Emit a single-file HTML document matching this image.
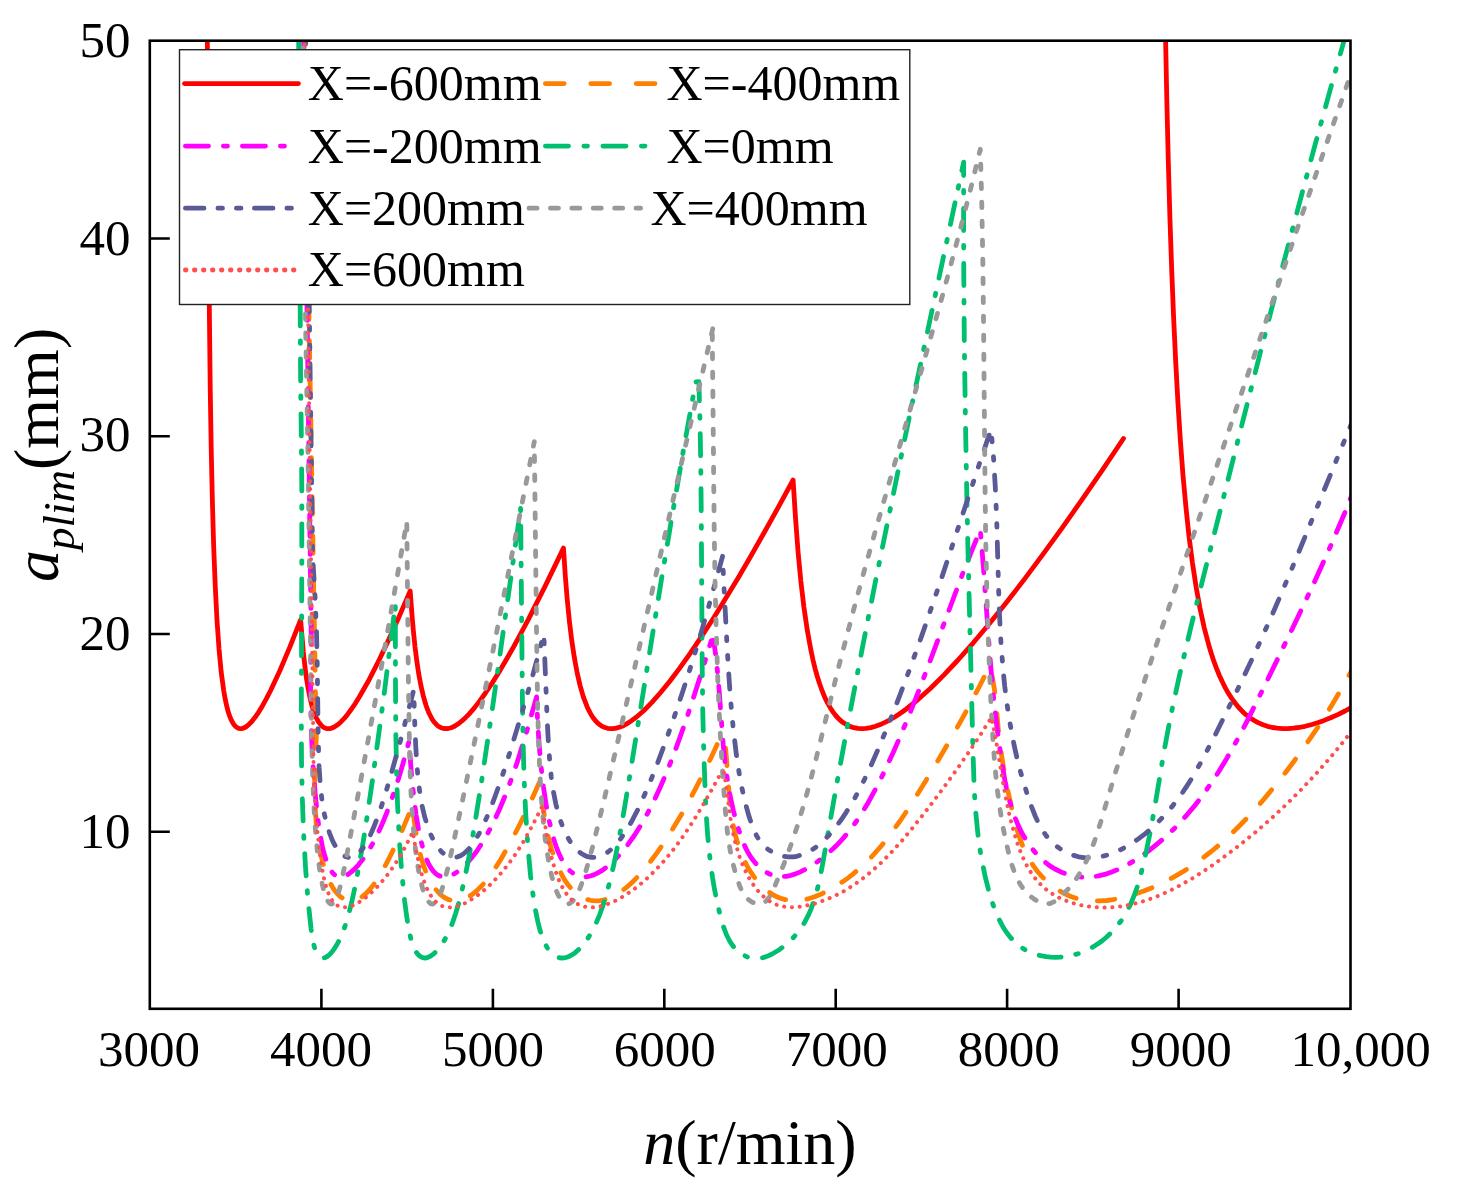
<!DOCTYPE html>
<html><head><meta charset="utf-8"><title>Stability lobes</title>
<style>
html,body{margin:0;padding:0;background:#fff}
body{width:1458px;height:1197px;overflow:hidden}
svg{display:block}
text{font-family:"Liberation Serif",serif;fill:#000}
.t{font-size:51px}
.lg{font-size:50px}
.ax{font-size:64px}
.it{font-style:italic}
</style></head><body>
<svg width="1458" height="1197" viewBox="0 0 1458 1197">
<rect width="1458" height="1197" fill="#fff"/>
<defs><clipPath id="cp"><rect x="149.8" y="40.7" width="1200.7" height="968.0999999999999"/></clipPath></defs>
<g clip-path="url(#cp)" fill="none" stroke-width="4.8" stroke-linejoin="round" stroke-linecap="round">
<path d="M207.3 34.1 L208.5 233.3 L210.2 386.6 L211.2 448.1 L212.4 501.9 L213.7 547.5 L215.3 586.8 L217 620.4 L219 648.7 L221.2 672.1 L223.8 691.1 L225.2 699.1 L226.7 705.9 L228.2 711.9 L230 717 L231.8 721.1 L233.7 724.3 L235.8 726.7 L238 728.1 L239.2 728.5 L240.5 728.7 L243 728.3 L245.8 727 L248.7 724.7 L251.8 721.5 L255.1 717.3 L258.7 712.1 L262.4 705.9 L266.4 698.7 L270.6 690.5 L279.6 671.2 L289.6 647.6 L300.6 619.8 L303.3 651.8 L304.8 665.5 L306.3 677.4 L308.1 688 L309.9 697.4 L311.9 705.6 L314 712.3 L316.3 717.9 L318.8 722.3 L321.5 725.6 L322.8 726.8 L324.3 727.7 L325.9 728.3 L327.5 728.6 L329.1 728.7 L330.7 728.4 L332.4 727.9 L334.2 727 L338 724.5 L341.1 721.7 L344.5 718.2 L347.9 713.9 L351.5 709 L355.4 703.3 L359.4 696.8 L368 681.8 L377.3 663.7 L387.5 642.4 L398.4 618.3 L410.2 590.9 L411.7 611.4 L413.3 630.3 L415 646.8 L416.9 661.7 L418.9 675 L421.1 686.4 L423.5 696.8 L426 705.3 L428.7 712.5 L431.7 718.4 L433.2 720.8 L434.9 722.9 L436.6 724.7 L438.3 726.2 L440.1 727.3 L442 728.1 L444 728.5 L446.1 728.7 L448.1 728.5 L450.4 728 L452.6 727.2 L454.9 726 L459.4 723 L464 719.1 L469 714.1 L474.2 708.1 L479.8 700.9 L485.8 692.5 L492.1 683.1 L498.6 672.8 L505.5 661 L512.8 648.3 L528.5 619.2 L545.4 585.6 L563.5 548.1 L565.2 574.6 L567.2 599.1 L569.4 621.2 L571.7 640.2 L574.4 657.8 L577.1 672.6 L580.1 685.6 L583.4 697.1 L587.1 706.7 L589 710.7 L591 714.5 L593.1 717.7 L595.3 720.5 L597.5 722.8 L599.9 724.8 L602.3 726.4 L604.9 727.5 L607.6 728.3 L610.4 728.7 L613.2 728.6 L616.2 728.1 L619.3 727.3 L622.6 726 L625.7 724.4 L629.1 722.4 L636.2 717.3 L643.7 710.7 L651.9 702.4 L660.6 692.5 L669.8 681.2 L679.7 668.1 L690 653.6 L701.1 637.2 L712.8 619.2 L725 599.6 L737.8 578.4 L750.9 556 L764.5 532 L778.5 506.9 L793.1 480 L795.5 517.7 L798 551.1 L800.8 580.8 L803.9 607.1 L807.3 630.3 L811 650.6 L813 660 L815.1 668.6 L817.3 676.5 L819.7 684 L822.1 690.7 L824.7 697.1 L827.4 702.7 L830.2 707.7 L833.1 712.1 L836.1 716 L839.3 719.4 L842.7 722.3 L846.3 724.6 L849.9 726.4 L853.8 727.7 L857.7 728.4 L861.8 728.7 L866.2 728.4 L870.8 727.6 L875.6 726.3 L880.2 724.6 L885 722.4 L890 719.8 L895.2 716.7 L900.4 713.3 L906 709.2 L917.7 699.8 L930.3 688.5 L943.8 675.1 L958 660 L973.3 642.8 L989.3 623.7 L1006.6 602.3 L1024.3 579.4 L1042.9 554.4 L1062 528.1 L1082 499.6 L1102.5 469.8 L1123.5 438.5" stroke="#ff0000"/>
<path d="M1165.4 29.5 L1166.8 99.3 L1168.3 161.5 L1169.9 217.1 L1171.7 269.9 L1173.6 317.1 L1175.7 361.7 L1178 403.6 L1180.4 440.8 L1183 475.5 L1186 507.8 L1189 536.3 L1192.4 562.6 L1196.1 586.8 L1199.9 608 L1204.3 628.1 L1208.9 645.5 L1211.3 653.6 L1214 661.7 L1216.6 668.6 L1219.4 675.5 L1222.3 681.8 L1225.2 687.6 L1228.4 693.3 L1231.7 698.4 L1235.1 703 L1238.7 707.5 L1242.4 711.4 L1246.2 714.9 L1250.1 717.9 L1254.3 720.6 L1258.6 722.9 L1263 724.8 L1267.5 726.3 L1272.4 727.5 L1277.3 728.2 L1282.6 728.6 L1287.8 728.6 L1293.3 728.2 L1299 727.5 L1305 726.3 L1311.2 724.7 L1317.6 722.7 L1324.1 720.4 L1330.7 717.7 L1337.8 714.6 L1345 711 L1359.9 702.8" stroke="#ff0000"/>
<path d="M304 28.8 L316.3 738.2 L315.2 756.3 L314.7 773.3 L314.6 789.5 L315 805 L316.2 823 L318.1 839.1 L319.3 846.6 L320.7 853.8 L322.3 860.5 L324 866.8 L325.9 872.7 L328 878 L330.1 882.8 L332.5 887.1 L334.9 890.8 L337.6 894 L340.2 896.5 L343 898.5 L346.5 900.1 L350.2 900.8 L353.9 900.6 L357.6 899.4 L361.4 897.3 L365.2 894.2 L369.1 890.2 L373.2 885.2 L377.3 879.2 L381.6 872.2 L386.1 864.1 L390.8 854.9 L396 844.2 L401.5 831.9 L412.8 804.9 L413.9 817.8 L415.4 829.8 L417.3 841 L419.5 851.5 L422.1 861.1 L425 869.6 L428.3 877.2 L431.9 883.9 L435.8 889.5 L440 894.1 L442.2 895.9 L444.4 897.5 L446.7 898.7 L449 899.7 L451.4 900.4 L453.8 900.8 L456.2 900.8 L458.7 900.6 L461.2 900.1 L463.7 899.3 L466.3 898.2 L468.8 896.8 L472.4 894.3 L476.2 891.2 L480 887.6 L483.9 883.3 L487.9 878.3 L492 872.8 L496.2 866.6 L500.6 859.7 L510 843.3 L520 824 L530.3 802.6 L540.8 779.2 L541.9 794.9 L543.5 809.6 L545.5 823.4 L548.1 836.4 L551.2 848.3 L554.7 859 L558.7 868.7 L563 877.1 L565.3 880.9 L567.8 884.4 L570.3 887.5 L573 890.3 L575.6 892.8 L578.5 895 L581.3 896.8 L584.3 898.3 L587.3 899.5 L590.4 900.3 L593.6 900.7 L596.8 900.8 L600 900.6 L603.3 900 L606.6 899.1 L610 897.8 L615.5 895.2 L620.9 891.7 L626.6 887.3 L632.3 882.2 L638.2 876.2 L644.3 869.3 L650.5 861.5 L656.9 852.9 L664.6 841.8 L672.3 829.6 L680.2 816.6 L688.2 802.4 L696.1 787.6 L704.2 771.8 L712.2 755.2 L720.1 738.2 L724.3 738 L725.4 746.4 L726.3 756.3 L728.7 788.3 L729.8 801.2 L731.2 812.9 L732.8 823.2 L735.5 835.8 L738.8 846.9 L741 852.9 L743 857.7 L745.2 862.3 L747.6 866.9 L751 872.4 L753.9 876.7 L757.9 881.8 L761.4 885.5 L765 889 L768.9 892.1 L773 894.8 L777.3 897 L780.6 898.3 L785.2 899.6 L789.8 900.4 L794.6 900.7 L799.5 900.4 L804.3 899.7 L809.2 898.5 L814.1 897 L818.9 895.1 L823.7 892.9 L833 888 L842.9 881.6 L848.2 877.9 L853.2 873.9 L862.9 865.5 L871.9 856.5 L881.2 846 L890 835 L899.7 821.5 L910.4 805.5 L926.6 779.4 L942.3 753.3 L955 731.5 L967.3 709.3 L978.6 688 L989.6 666.2 L992.3 677.4 L994.3 688.6 L995.7 699.9 L998.4 730.6 L1000.3 746.6 L1003.7 769 L1008 791.4 L1013.4 815.8 L1015.4 823.9 L1017.8 832 L1020.4 839.9 L1022.8 846.1 L1026.2 853.6 L1029.2 859.3 L1033.6 866.2 L1037.5 871.5 L1041.8 876.4 L1046.4 880.9 L1052.6 886.1 L1057.8 889.8 L1063.3 893 L1069.1 895.7 L1075 897.9 L1081.1 899.5 L1087.3 900.5 L1093.7 901 L1100.1 900.9 L1106.6 900.5 L1113.2 899.6 L1121.3 897.9 L1127.8 896.3 L1135.9 893.8 L1143.8 891 L1151.5 887.9 L1159 884.6 L1166.4 881 L1173.6 877.1 L1182.1 872.2 L1188.9 867.8 L1197 862.3 L1203.5 857.5 L1211.2 851.5 L1217.5 846.3 L1224.8 839.8 L1232 833.1 L1239 826.2 L1245.9 819.2 L1253.7 810.8 L1261.3 802.2 L1269.8 792.1 L1286.1 771.7 L1294 761.2 L1302.6 749.4 L1317.4 727.9 L1331.4 705.9 L1344.7 683.4 L1358 659" stroke="#ff8000" stroke-dasharray="17.6 21.4"/>
<path d="M303.5 28.8 L311.3 640.6 L310.7 665.8 L310.6 690.3 L310.9 714.4 L311.6 738.1 L313.1 767.2 L315.3 795.1 L317.9 819.7 L319.4 830.1 L321 839.4 L322.5 847.3 L324.3 854.2 L326.1 860.1 L328 865.1 L330 869.1 L332.2 872.4 L334.5 874.7 L337 876.2 L338.7 876.8 L340.5 876.9 L342.5 876.7 L344.5 876.1 L346.6 875.2 L348.8 873.8 L353.6 870 L358.5 864.8 L363.6 858.3 L368.5 850.8 L373.5 842.1 L378.1 833 L382.6 823 L387.1 811.8 L391.5 799.9 L395.8 787 L400.2 773.1 L404.6 757.9 L409.2 740.8 L410.4 760.8 L412 780.2 L414 798.7 L416.1 815.1 L418.5 829.2 L421 841.1 L423.7 851.3 L426.8 859.8 L428.3 863.3 L430 866.4 L431.7 869.1 L433.5 871.4 L435.4 873.3 L437.4 874.8 L439.4 875.9 L441.5 876.6 L443.8 876.9 L446.1 876.8 L448.4 876.3 L451 875.5 L453.6 874.2 L456.4 872.5 L459.2 870.4 L462.1 868 L466.9 863.2 L471.8 857.6 L476.7 851.2 L481.4 844.1 L486 836.4 L490.6 828 L495.2 818.7 L499.7 808.7 L504.2 798 L508.6 786.8 L512.9 774.8 L517.3 762 L526.4 732.6 L536.6 696.9 L537.6 721.3 L539.1 744.1 L541 766 L543.4 786.5 L546.2 805.3 L549.4 821.7 L552.9 836 L554.7 842.2 L556.7 848 L558.7 853.1 L560.8 857.6 L563 861.7 L565.3 865.3 L567.6 868.4 L570.1 871 L572.7 873.1 L575.3 874.8 L578.1 875.9 L581 876.7 L584 876.9 L587.1 876.7 L590.3 876 L593.7 874.9 L597.3 873.2 L600.9 871.2 L604.1 869 L607.5 866.4 L614.2 860.4 L621.1 853.1 L627.8 844.7 L634.3 835.5 L640.9 825.1 L647.4 813.6 L653.9 800.9 L659.4 789.1 L664.8 776.7 L670.2 763.5 L675.8 748.8 L683.5 727.4 L691.8 702.8 L700.8 674.8 L711.3 640.6 L713.6 640.3 L715.8 655.7 L717.6 672.6 L719.2 691.1 L723.2 744.4 L724.9 761 L726.8 775.9 L729.8 794.2 L733.4 810.8 L735.6 819.2 L738 827.5 L740.2 834.2 L742.6 840.8 L745.3 847.3 L747.7 851.9 L751.2 857.7 L754.3 861.8 L757.6 865.6 L761.4 868.9 L765.4 871.8 L769.6 874.1 L774 875.7 L777 876.3 L781.6 876.6 L786.3 876.3 L791 875.3 L795.6 873.9 L800.3 871.9 L804.9 869.6 L809.4 867.1 L815.2 863.3 L819.4 860.3 L824.8 856.1 L833.6 848.3 L838.3 843.6 L842.9 838.6 L847.2 833.5 L851.3 828.2 L855.3 822.8 L860.1 815.8 L868 802.9 L876.2 787.9 L883.8 772.7 L893.1 752.7 L901.9 732.5 L910.9 710.7 L918.3 691.9 L926.7 670 L961.4 577 L971.3 551.8 L980.3 529.8 L983.5 568 L988.6 638.8 L990.8 667.3 L993.6 698.1 L996.6 724.6 L1000.8 755.7 L1003.3 771.4 L1005.3 782.6 L1007.2 791.4 L1009.4 800.2 L1012 808.9 L1014.9 817.4 L1018.3 825.6 L1022.3 833.7 L1026.9 841.4 L1032.1 848.7 L1037.9 855.5 L1042.6 860.1 L1046 862.9 L1049.5 865.6 L1055 869 L1060.8 871.9 L1064.8 873.5 L1068.8 874.8 L1073 875.8 L1077.2 876.6 L1083.5 877.2 L1089.9 877.1 L1094.1 876.6 L1098.4 875.9 L1104.7 874.4 L1113 871.5 L1119.2 868.9 L1127.3 864.8 L1133.2 861.3 L1140.9 856.3 L1148.4 851 L1155.5 845.4 L1162.4 839.6 L1169 833.6 L1175.4 827.4 L1181.5 820.9 L1187.4 814.3 L1194.5 805.9 L1200 798.9 L1206.5 789.9 L1212.8 780.8 L1218.8 771.5 L1225.8 760.1 L1232.4 748.5 L1238.9 736.7 L1246.2 722.8 L1265.2 684.6 L1295.3 622.5 L1314.2 582.4 L1330.6 546 L1344.6 513.2 L1358 480" stroke="#ff00ff" stroke-dasharray="21.6 14.4 3.6 14.4"/>
<path d="M298.6 28.8 L300.6 380.9 L301.3 432.9 L301.8 487 L301.8 560.2 L301.3 718.6 L301.5 760 L302.2 794.3 L303.5 831.4 L305.5 867.1 L308 900 L311.1 929.1 L312.1 936.4 L313.1 941.9 L314.3 946.8 L315.8 950.8 L317.3 953.9 L319.1 956.2 L321 957.5 L323 958 L325 957.6 L327.1 956.5 L329.3 954.8 L331.6 952.4 L333.9 949.4 L336.2 945.8 L338.5 941.7 L340.7 937.2 L344.5 927.7 L347.9 916.8 L351.4 903.5 L355 887 L358.9 866.7 L363 843 L367.3 815.5 L372 783.4 L383.9 696.1 L395.3 604.4 L395.5 683.8 L395.8 730.1 L396.5 769.3 L397.5 803.2 L399.3 839.3 L401.7 871.8 L404.6 900.7 L406.3 913.5 L407.9 924.4 L409.4 932.4 L410.9 938.9 L412.5 944.3 L414.4 948.8 L416.4 952.5 L418.7 955.2 L421.2 957 L423.8 957.9 L425.2 958 L426.8 957.8 L429.8 956.6 L433.2 954.3 L436.6 951.1 L440 947.1 L443.4 942 L446.6 936.2 L449.6 930 L452.7 922.2 L455.7 913.2 L458.7 903.2 L461.7 891.5 L464.7 878.3 L467.7 863.5 L470.8 847 L474.1 828.2 L481.6 781.2 L492.9 704.9 L520.6 508.4 L522.4 699.5 L523.1 741.3 L524 776.1 L525.7 813.4 L527.9 846.9 L530.6 876 L532.2 889.1 L533.9 900.7 L535.8 911.8 L537.9 922 L540.1 930.6 L542.4 937.8 L544.9 943.6 L547.7 948.5 L550.8 952.5 L554.1 955.4 L555.9 956.4 L557.8 957.3 L559.8 957.8 L561.8 958 L564 957.9 L566 957.5 L568.2 956.7 L570.4 955.8 L574.9 952.9 L579.4 948.9 L583.9 943.8 L588.1 938 L592.2 931.1 L596.1 923.2 L599.8 914.3 L603.4 904.1 L606.8 892.9 L610.3 879.8 L613.6 865.5 L616.9 849.6 L621.2 827.2 L625.9 799.6 L660.7 584 L671.7 518.3 L682.1 457.6 L695.7 382 L698.9 381.6 L700 421 L700.8 467.8 L701.3 518.2 L702.2 666 L702.8 712.8 L703.9 755.8 L705.6 802.3 L706.6 820.2 L707.6 834.4 L708.9 848.7 L710.5 863 L712.5 877.4 L714.3 888.2 L717.2 902.6 L720.6 917 L723.8 927.7 L726.4 934.5 L729.5 940.8 L731.4 943.8 L733.4 946.5 L735.7 949.1 L738.1 951.4 L740.9 953.5 L743.8 955.3 L747 956.8 L750.4 957.9 L754 958.5 L757.6 958.6 L761.2 958.1 L764.9 957.1 L768.6 955.7 L772.1 954 L775.5 952 L778.8 950 L784.8 945.6 L790.3 940.9 L792.7 938.3 L797.3 933.1 L801.4 927.6 L805 921.7 L808.1 915.7 L810.9 909.4 L813.3 902.9 L815.5 896.2 L817.3 889.4 L819.8 879 L822.5 864.8 L837 782.5 L848.2 722 L861.7 651.3 L876.3 577.3 L892.1 500 L910.3 412.2 L963.7 162.1 L963.6 217 L963.8 276.6 L964.3 340.8 L965.2 405.1 L966.4 474 L967.9 547.4 L972.9 749 L974.1 785.5 L974.8 799.2 L975.8 812.9 L978.1 835.8 L980 849.6 L981.6 858.8 L985.3 877.2 L988.8 891 L993 904.6 L996.3 913.3 L998.1 917.5 L1002.3 925.6 L1004.5 929.4 L1007 933 L1009.6 936.4 L1012.4 939.6 L1015.3 942.6 L1018.5 945.3 L1021.9 947.8 L1025.5 950 L1029.3 951.9 L1033.3 953.6 L1037.4 954.9 L1041.8 955.9 L1046.2 956.7 L1050.7 957.1 L1055.3 957.3 L1059.8 957.2 L1064.4 956.7 L1069 956 L1073.5 955 L1078 953.7 L1082.4 952.1 L1086.6 950.3 L1090.8 948.2 L1094.8 945.8 L1098.7 943.2 L1102.5 940.5 L1106.1 937.5 L1109.5 934.3 L1115.9 927.5 L1121.6 920.2 L1126.5 912.3 L1130.6 904.2 L1134.1 895.7 L1137.2 887 L1141 873.7 L1146.3 851.3 L1150.9 828.8 L1154.9 806.2 L1163.9 752 L1170.7 716 L1179.4 675.7 L1191 626.6 L1202.1 582 L1242.6 421.9 L1261.9 346.4 L1280.3 275.4 L1297.9 208.9 L1314.5 146.9 L1330.3 89.4 L1346.5 32" stroke="#00c070" stroke-dasharray="22.1 14.9 2.6 15.4"/>
<path d="M305.5 28.8 L312.6 556.3 L314.9 593.1 L316.5 631.7 L317.3 668.5 L318.2 739 L319.1 767.2 L320.3 785.3 L322 800.6 L323.2 807.7 L324.5 814.8 L326 821.3 L327.8 827.6 L329.7 833.5 L331.8 838.9 L333.9 843.5 L336.2 847.5 L338.5 850.9 L340.9 853.6 L343.4 855.6 L346 856.8 L347.7 857.3 L349.4 857.5 L351.2 857.3 L353 856.8 L354.7 856 L356.5 854.9 L359.9 851.8 L363.4 847.6 L366.8 842 L370.3 835.1 L373.9 826.8 L377.5 817.4 L381.3 806.6 L385.3 793.9 L389.7 779.4 L401.4 737.2 L413.7 690 L414.8 724.3 L415.7 745.5 L416.8 763.4 L418.1 778.9 L419.8 792.6 L421.8 804.7 L424.5 816.2 L427.7 826.6 L429.7 832 L431.9 837 L434.1 841.4 L436.5 845.4 L438.9 848.8 L441.5 851.7 L444 853.9 L446.7 855.7 L449.4 856.8 L452.1 857.4 L454.9 857.4 L457.7 856.8 L460.5 855.7 L463.3 854 L466.1 851.7 L468.8 848.9 L472.3 844.6 L475.8 839.3 L479.3 833.2 L482.9 826 L486.6 817.8 L490.5 808.5 L494.5 798 L498.7 786.2 L503.8 771.4 L509.3 754.2 L522 712.7 L533.4 672.9 L543.8 634 L547.3 722.5 L548.4 742.9 L549.6 759.5 L551.2 776.5 L553.3 791.1 L555.8 803.8 L558.9 815.6 L561 822.2 L563.4 828.4 L566 834 L568.7 839.1 L571.6 843.6 L574.6 847.5 L577.8 850.7 L581 853.3 L584.3 855.3 L587.7 856.7 L591.3 857.4 L594.9 857.4 L598.5 856.7 L602.1 855.5 L605.7 853.6 L609.4 850.9 L612.1 848.6 L614.9 845.8 L620.4 839.1 L626.1 830.9 L631.9 821 L637.9 809.4 L644 796.1 L650.6 780.7 L657.5 763.3 L665.6 741.5 L674.3 716.7 L682.9 691 L691.4 664.5 L700.1 636.1 L708.5 607.1 L719.2 568.6 L722.6 556.1 L722.4 555.8 L726.7 639 L728.3 667.5 L730.4 697.9 L733 726.2 L736.3 754.2 L739.6 776.1 L741.5 786.1 L743.7 796.1 L746.2 806.2 L749 816.3 L751.7 824.5 L754 830.4 L756.7 835.9 L758.8 839.4 L762.4 844.2 L765.1 847 L768.2 849.5 L773.1 852.6 L778.5 854.9 L784 856.4 L787.7 856.9 L793.2 856.8 L796.8 856.3 L802.1 854.8 L807.2 852.6 L812.2 849.7 L815.5 847.5 L820.3 843.7 L824.8 839.4 L829.3 834.8 L833.5 829.9 L837.5 824.7 L841.4 819.5 L846.2 812.3 L853.9 799.8 L861.6 785.4 L869.4 769.1 L878.2 749 L889 723.1 L900 694.9 L910.7 666.5 L922.4 633.9 L942.3 575.9 L977.5 469.5 L991 429.4 L993.5 457 L995.3 487.1 L996.7 519.9 L998.5 585.5 L999.4 613.2 L1001 643.4 L1003.2 671 L1004.7 686 L1006.6 701 L1008.7 715.9 L1011.3 730.8 L1014.2 745.6 L1017 758 L1020.1 770.3 L1023.6 782.5 L1027.4 794.7 L1031.6 806.9 L1035.4 816.5 L1038.6 823.4 L1042.2 830 L1046.5 836.1 L1051.4 841.7 L1057 846.5 L1061 849.4 L1065.2 851.8 L1071.8 854.8 L1078.6 856.8 L1085.6 857.8 L1092.7 857.9 L1099.8 856.9 L1106.9 855.2 L1111.6 853.6 L1116.3 851.8 L1120.9 849.6 L1127.7 845.9 L1132.2 843.1 L1138.7 838.6 L1145 833.8 L1151 828.7 L1156.7 823.4 L1162.1 817.9 L1167.3 812.2 L1172.2 806.4 L1176.8 800.5 L1182.7 792.3 L1186.8 786.1 L1192.2 777.6 L1202.1 760.2 L1215.9 733.5 L1237.1 690.6 L1254.4 654.1 L1270 619.7 L1282 591.9 L1295.7 559.5 L1340.6 449.9 L1358 408" stroke="#5a5a96" stroke-dasharray="15.1 14.9 3.6 14.9 3.6 14.9"/>
<path d="M303 28.8 L305.6 325.3 L308.1 460.2 L311.3 707.6 L312 748.6 L312.7 777.9 L313.9 805.4 L315.4 829.5 L317.3 851.1 L319.6 869.3 L322.2 884 L323.6 889.9 L325.1 895 L326.6 898.9 L328.1 901.7 L329.7 903.4 L330.5 903.8 L331.4 904 L332.2 903.8 L333 903.4 L334.6 901.7 L336.2 898.8 L337.8 894.7 L339.4 889.4 L341.2 882.6 L345.3 863.3 L360.8 780.3 L377.5 688.8 L389.2 622.7 L406.8 521.5 L408.3 673.3 L409.4 742.3 L410 768.4 L410.9 790.5 L412.1 811 L413.5 829.8 L415.7 851.4 L418.4 869.5 L419.8 877.3 L421.4 884 L423 889.9 L424.7 894.8 L426.5 898.7 L428.3 901.5 L430.2 903.3 L431.1 903.8 L432.1 904 L433 903.9 L434 903.5 L435.9 902 L437.7 899.4 L439.6 895.7 L441.4 890.9 L443.4 884.8 L447.9 867.9 L453.3 843.7 L462.8 799.2 L475.3 738.2 L491 660.7 L534.3 441.6 L536.6 638.9 L537.7 708.8 L538.6 742.3 L539.7 769.4 L541 792.7 L542.6 814.2 L545.2 838.8 L546.7 849.6 L548.4 859.7 L550.1 868.8 L552 877.1 L554 884.2 L556.1 890.3 L558.3 895.3 L560.6 899.2 L562.9 902 L564.1 902.9 L565.3 903.5 L566.5 903.9 L567.7 904 L568.9 903.7 L570.1 903.2 L572.5 901.3 L574.9 898.2 L577.6 893.6 L580.3 887.4 L583.1 879.8 L586.1 870.3 L589.3 859 L593.1 845 L602.6 806.3 L619.4 734.5 L683.3 455.2 L713.5 325.6 L712.2 325.4 L714.2 529.7 L715.1 585.2 L716.3 633.7 L718 685.7 L720.3 734.1 L723.2 782.3 L725 806.4 L726.5 823.6 L727.6 833.9 L729.1 844.2 L730.9 854.5 L732.4 861.4 L735.1 871.8 L737.2 878.7 L739.6 885.6 L741 889 L742.6 892.2 L744.5 895.3 L746.7 898 L749.3 900.3 L752.3 902.2 L755.5 903.5 L758.6 904 L761.4 903.7 L763.8 902.7 L766 901.1 L768 898.9 L769.8 896.3 L771.4 893.4 L774.4 887 L779.9 874 L786.4 857.6 L791.1 844.4 L796.7 827.9 L800.8 814.6 L805.7 798 L810.3 781.3 L815.5 761.1 L838.6 667.1 L853.5 610.2 L863.5 573.5 L875.6 530.1 L924.3 360.2 L944 290.1 L953.9 253.3 L963.6 216.5 L972.1 182.9 L980.3 149.3 L981.7 199.9 L982.8 259.2 L983.5 318.5 L985.1 492.7 L985.8 543.6 L986.8 590.3 L988.5 645.4 L990.8 700.3 L993.1 742.4 L994.4 759.3 L995.9 776.1 L997.7 792.9 L1000.1 809.8 L1002.9 826.6 L1005.5 839.3 L1008.4 852 L1011.8 864.6 L1014.6 872.7 L1018.1 880.4 L1020.1 884.1 L1022.4 887.5 L1024.9 890.8 L1027.7 893.8 L1030.8 896.6 L1034.2 899.2 L1038 901.4 L1042.1 903.1 L1046.1 903.9 L1050 903.5 L1053.7 901.9 L1057.2 899.6 L1063.6 893.9 L1069.4 887.7 L1074.6 881.2 L1079.2 874.3 L1083.3 867.2 L1087 859.7 L1090.4 852.1 L1094.8 840.3 L1100.1 824.1 L1114.7 774.9 L1128.6 730.2 L1144.2 681.7 L1161.5 629.4 L1296.1 232.1 L1329.2 135.9 L1360 48" stroke="#999999" stroke-dasharray="5.6 13.4"/>
<path d="M304.5 28.8 L313.7 773 L314 781.9 L315.3 806.7 L317.3 830.8 L319.9 853.5 L321.4 864.3 L322.9 872.9 L324.2 879.4 L325.6 885 L327.1 890 L328.8 894.3 L330.6 897.9 L332.5 901 L334.6 903.4 L336.9 905.2 L338.5 906.2 L340.2 906.8 L341.9 907.2 L343.8 907.4 L347.9 907 L352.3 905.7 L357.2 903.4 L362.4 900.1 L367.7 896 L373.1 891 L378.5 885.5 L383.9 879.3 L389.2 872.5 L394.3 865.2 L399.1 857.7 L403.7 849.8 L408.2 841.2 L412.8 831.8 L414.9 843.9 L417.1 855.2 L419.5 865.7 L421.8 874.4 L424.2 881.6 L426.6 887.9 L429.2 893.1 L432.1 897.6 L435.2 901.3 L438.5 904 L442.1 906 L446 907.1 L450.2 907.4 L454.7 906.8 L459.6 905.5 L464.9 903.2 L469.7 900.6 L474.7 897.4 L479.9 893.6 L485.1 889.3 L490.3 884.5 L495.5 879.2 L500.7 873.4 L505.7 867.4 L510.3 861.4 L514.9 855 L519.2 848.4 L523.6 841.4 L532.6 825.3 L542.4 805.9 L544.4 820.8 L546.7 834.6 L549.2 847.4 L551.9 859 L554.8 869 L557.8 877.7 L561.1 885 L564.6 891.3 L568.5 896.5 L570.6 898.7 L572.8 900.7 L575 902.4 L577.4 903.9 L579.8 905.1 L582.3 906 L584.9 906.7 L587.6 907.2 L590.4 907.4 L593.4 907.3 L599.5 906.5 L606.3 904.6 L612.8 902 L619.6 898.6 L626.6 894.4 L633.8 889.4 L640.8 883.8 L648.1 877.4 L655.2 870.4 L662.2 863 L669 855 L675.6 846.7 L682.3 837.4 L689.2 827.3 L696.3 816.1 L703.8 803.6 L712 789.3 L721.1 772.8 L724.3 772.8 L730.8 820.5 L733 832.8 L735.6 843.8 L739.2 855.8 L743.3 866.5 L747.8 875.8 L750.7 880.8 L753.3 884.7 L756 888.4 L758.9 891.9 L761.9 895.1 L765.2 898 L768.6 900.6 L772.2 902.8 L776 904.5 L779 905.6 L782.1 906.3 L786.3 907 L790.7 907.2 L795.1 907.1 L799.6 906.7 L804.1 906 L809.7 904.8 L815.2 903.4 L824.7 900.2 L834 896.3 L843.8 891.2 L853.3 885.3 L862.4 878.8 L872 871 L881.3 862.6 L890.9 852.8 L901.7 840.9 L912.8 827.6 L926.9 809.8 L942.3 789.4 L955.2 771.7 L967.8 753.6 L979.6 736 L991.4 717.6 L993.8 728.8 L996.2 741.4 L1002.9 781.8 L1005.7 797.1 L1008.9 812.5 L1012 825.2 L1016.5 840.7 L1018.9 847.7 L1021.6 854.5 L1024.6 861.1 L1027.2 866.3 L1030.1 871.2 L1033.3 875.9 L1037.6 881.3 L1041.4 885.3 L1045.5 889 L1049.9 892.3 L1054.5 895.3 L1059.4 897.9 L1064.6 900.2 L1071.2 902.6 L1076.6 904.2 L1083.6 905.7 L1090.6 906.8 L1097.6 907.4 L1104.6 907.6 L1111.6 907.3 L1118.5 906.7 L1125.4 905.6 L1130.9 904.5 L1137.6 902.9 L1144.4 900.9 L1151.1 898.6 L1157.7 896.1 L1164.3 893.2 L1170.8 890.2 L1178.6 886.2 L1192.5 878.3 L1207.3 868.8 L1222.8 857.8 L1240.1 844.7 L1255.5 832.2 L1271.4 818.4 L1286.7 804.1 L1301.5 789.3 L1315.9 773.9 L1329.9 758 L1343.6 741.4 L1358 723" stroke="#ff5050" stroke-width="4.0" stroke-dasharray="0.1 7.7"/>
</g>
<g stroke="#000" stroke-width="2.6" fill="none">
<rect x="149.8" y="40.7" width="1200.7" height="968.0999999999999"/>
<path d="M321.4 1008.8 V988.8 M492.9 1008.8 V988.8 M664.3 1008.8 V988.8 M835.7 1008.8 V988.8 M1007.1 1008.8 V988.8 M1178.6 1008.8 V988.8 M149.8 831.8 H169.8 M149.8 634 H169.8 M149.8 436.2 H169.8 M149.8 238.5 H169.8"/>
</g>
<g class="t" text-anchor="middle">
<text x="149" y="1065.5">3000</text>
<text x="320.9" y="1065.5">4000</text>
<text x="492.9" y="1065.5">5000</text>
<text x="664.8" y="1065.5">6000</text>
<text x="836.8" y="1065.5">7000</text>
<text x="1008.8" y="1065.5">8000</text>
<text x="1180.7" y="1065.5">9000</text>
<text x="1360.5" y="1065.5">10,000</text>
</g>
<g class="t" text-anchor="end">
<text x="130.5" y="848">10</text>
<text x="130.5" y="650.2">20</text>
<text x="130.5" y="451.4">30</text>
<text x="130.5" y="254.7">40</text>
<text x="130.5" y="56.9">50</text>
</g>
<text class="ax" x="643.3" y="1163.5"><tspan class="it">n</tspan>(r/min)</text>
<text class="ax" transform="translate(58 582) rotate(-90)"><tspan class="it">a</tspan><tspan class="it" font-size="45" dy="16">plim</tspan><tspan dy="-16">(mm)</tspan></text>
<rect x="179.5" y="49.7" width="730.3" height="254.8" fill="#fff" stroke="#222" stroke-width="1.4"/>
<g fill="none" stroke-width="4.8" stroke-linecap="round">
<path d="M184.5 83.6 h113.9" stroke="#ff0000"/>
<path d="M545.4 83.6 h111.1" stroke="#ff8000" stroke-dasharray="18.8 26.6"/>
<path d="M185.4 146.1 h109.1" stroke="#ff00ff" stroke-dasharray="23.1 14.9 4.1 14.9"/>
<path d="M545.4 146.1 h109.1" stroke="#00c070" stroke-dasharray="23.1 15.4 3.6 15.4"/>
<path d="M185.4 208.2 h112.1" stroke="#5a5a96" stroke-dasharray="18.6 13.9 4.6 13.9 4.6 13.4"/>
<path d="M529 208.2 h111.6" stroke="#999999" stroke-dasharray="8.1 13.3"/>
<path d="M185.4 270 h112.1" stroke="#ff5050" stroke-dasharray="0.6 8.4"/>
</g>
<g class="lg">
<text x="307.8" y="100">X=-600mm</text>
<text x="666.5" y="100">X=-400mm</text>
<text x="307.8" y="162.5">X=-200mm</text>
<text x="666.5" y="162.5">X=0mm</text>
<text x="307.8" y="224.6">X=200mm</text>
<text x="650.5" y="224.6">X=400mm</text>
<text x="307.8" y="286.4">X=600mm</text>
</g>
</svg>
</body></html>
